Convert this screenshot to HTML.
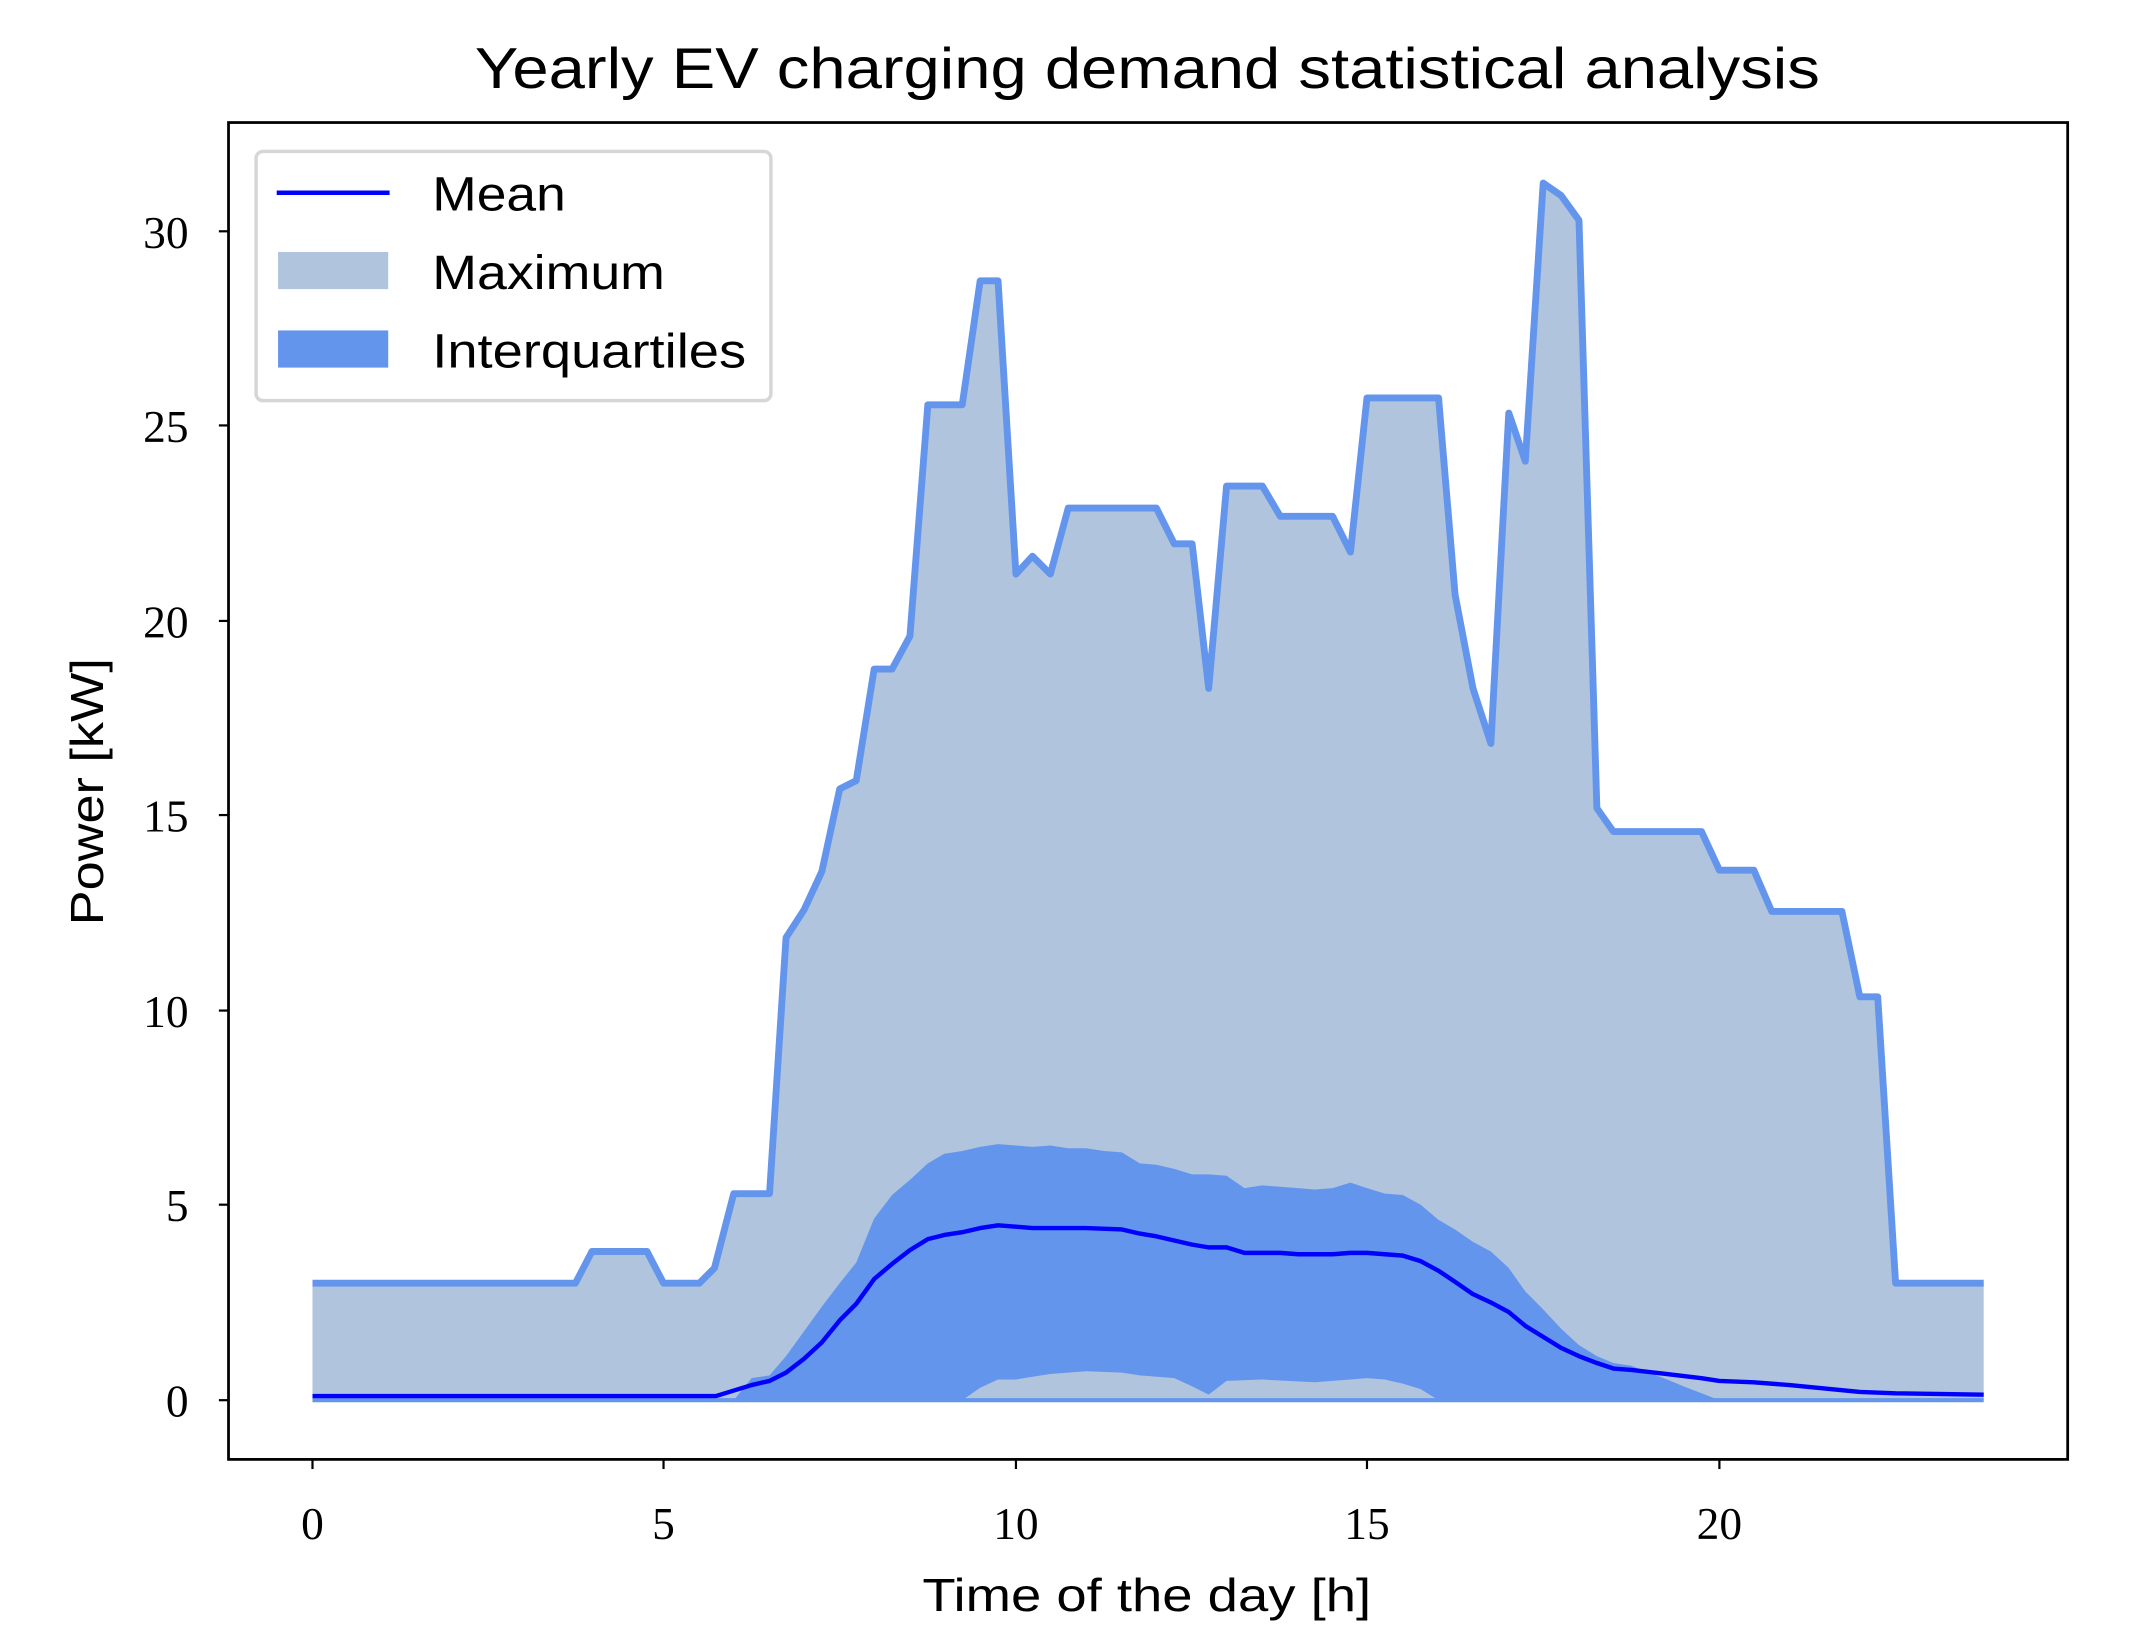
<!DOCTYPE html>
<html><head><meta charset="utf-8"><style>
html,body{margin:0;padding:0;background:#fff;}
svg{display:block;}
text{font-family:"Liberation Sans",sans-serif;fill:#000;}
.tk{font-family:"Liberation Serif",serif;font-size:33px;}
</style></head><body>
<svg width="2131" height="1637" viewBox="0 0 1548 1189" preserveAspectRatio="none" xmlns="http://www.w3.org/2000/svg">
<rect width="1548" height="1189" fill="#fff"/>
<polygon fill="#b0c4de" points="227,1017 227,932 418,932 430,909 470,909 482,932 508,932 519,921 533,867 559,867 571,681 584,661 597,633 610,573 622,567 635,486 648,486 661,462 674,294 699,294 712,204 725,204 738,417 750,404 763,417 776,369 840,369 853,395 866,395 878,500 891,353 917,353 930,375 968,375 981,401 993,289 1045,289 1057,432 1070,500 1083,540 1096,300 1108,335 1121,133 1134,142 1147,160 1160,587 1172,604 1236,604 1249,632 1274,632 1287,662 1338,662 1351,724 1364,724 1377,932 1441,932 1441,1017"/>
<polygon fill="#6495ed" points="533,1017 546,1001 559,999 571,985 584,967 597,949 610,932 622,917 635,885 648,868 661,857 674,845 686,838 699,836 712,833 725,831 738,832 750,833 763,832 776,834 789,834 802,836 815,837 828,845 840,846 853,849 866,853 878,853 891,854 904,863 917,861 930,862 943,863 955,864 968,863 981,859 993,863 1006,867 1019,868 1032,875 1045,886 1057,893 1070,902 1083,909 1096,921 1108,938 1121,951 1134,965 1147,977 1160,985 1172,990 1185,992 1198,997 1211,1002 1223,1007 1236,1012 1249,1017 1045,1017 1032,1009 1019,1005 1006,1002 993,1001 981,1002 955,1004 917,1002 891,1003 878,1013 866,1007 853,1001 828,999 815,997 789,996 763,998 750,1000 738,1002 725,1002 712,1008 699,1017"/>
<line x1="227" y1="1017" x2="1441" y2="1017" stroke="#6495ed" stroke-width="3"/>
<polyline fill="none" stroke="#6495ed" stroke-width="5" stroke-linejoin="round" points="227,932 418,932 430,909 470,909 482,932 508,932 519,921 533,867 559,867 571,681 584,661 597,633 610,573 622,567 635,486 648,486 661,462 674,294 699,294 712,204 725,204 738,417 750,404 763,417 776,369 840,369 853,395 866,395 878,500 891,353 917,353 930,375 968,375 981,401 993,289 1045,289 1057,432 1070,500 1083,540 1096,300 1108,335 1121,133 1134,142 1147,160 1160,587 1172,604 1236,604 1249,632 1274,632 1287,662 1338,662 1351,724 1364,724 1377,932 1441,932"/>
<polyline fill="none" stroke="#0000ff" stroke-width="3.2" stroke-linejoin="round" points="227,1014 520,1014 533,1010 546,1006 559,1003 571,997 584,987 597,975 610,959 622,947 635,929 648,918 661,908 674,900 686,897 699,895 712,892 725,890 738,891 750,892 789,892 815,893 828,896 840,898 853,901 866,904 878,906 891,906 904,910 930,910 943,911 968,911 981,910 993,910 1006,911 1019,912 1032,916 1045,923 1057,931 1070,940 1083,946 1096,953 1108,963 1121,971 1134,979 1147,985 1160,990 1172,994 1185,995 1211,998 1236,1001 1249,1003 1274,1004 1300,1006 1351,1011 1377,1012 1441,1013"/>
<rect x="166" y="89" width="1336" height="971" fill="none" stroke="#000" stroke-width="2"/>
<g stroke="#000" stroke-width="1.6">
<line x1="227" y1="1060" x2="227" y2="1067"/><line x1="482" y1="1060" x2="482" y2="1067"/><line x1="738" y1="1060" x2="738" y2="1067"/><line x1="993" y1="1060" x2="993" y2="1067"/><line x1="1249" y1="1060" x2="1249" y2="1067"/>
<line x1="159" y1="1017" x2="166" y2="1017"/><line x1="159" y1="875" x2="166" y2="875"/><line x1="159" y1="734" x2="166" y2="734"/><line x1="159" y1="592" x2="166" y2="592"/><line x1="159" y1="451" x2="166" y2="451"/><line x1="159" y1="309" x2="166" y2="309"/><line x1="159" y1="168" x2="166" y2="168"/>
</g>
<g text-anchor="middle">
<text x="227" y="1118" class="tk">0</text><text x="482" y="1118" class="tk">5</text><text x="738" y="1118" class="tk">10</text><text x="993" y="1118" class="tk">15</text><text x="1249" y="1118" class="tk">20</text>
</g>
<g text-anchor="end">
<text x="137" y="1029" class="tk">0</text><text x="137" y="887" class="tk">5</text><text x="137" y="746" class="tk">10</text><text x="137" y="604" class="tk">15</text><text x="137" y="463" class="tk">20</text><text x="137" y="321" class="tk">25</text><text x="137" y="180" class="tk">30</text>
</g>
<text x="670" y="1170" font-size="34" textLength="326" lengthAdjust="spacingAndGlyphs">Time of the day [h]</text>
<text transform="translate(75,672) rotate(-90)" font-size="34" textLength="194" lengthAdjust="spacingAndGlyphs">Power [kW]</text>
<text x="345" y="64" font-size="42" textLength="977" lengthAdjust="spacingAndGlyphs">Yearly EV charging demand statistical analysis</text>
<rect x="186" y="110" width="374" height="181" rx="5" fill="#fff" fill-opacity="0.8" stroke="#d6d6d6" stroke-width="2.5"/>
<line x1="201" y1="140" x2="283" y2="140" stroke="#0000ff" stroke-width="3.2"/>
<rect x="202" y="183" width="80" height="27" fill="#b0c4de"/>
<rect x="202" y="240" width="80" height="27" fill="#6495ed"/>
<text x="314" y="153" font-size="35" textLength="97" lengthAdjust="spacingAndGlyphs">Mean</text>
<text x="314" y="210" font-size="35" textLength="169" lengthAdjust="spacingAndGlyphs">Maximum</text>
<text x="314" y="267" font-size="35" textLength="228" lengthAdjust="spacingAndGlyphs">Interquartiles</text>
</svg>
</body></html>
